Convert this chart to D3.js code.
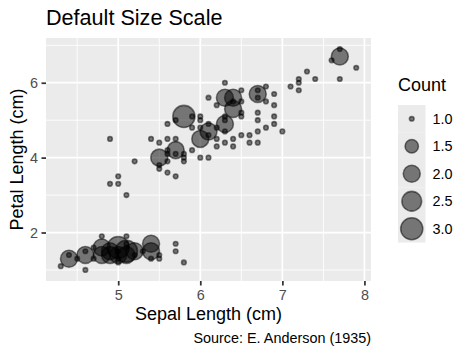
<!DOCTYPE html>
<html>
<head>
<meta charset="utf-8">
<script src="https://cdn.jsdelivr.net/npm/d3@7"></script>
<style>
  html, body { margin: 0; padding: 0; background: #fff; }
  svg { display: block; font-family: "Liberation Sans", Arial, Helvetica, sans-serif; }
</style>
</head>
<body>
<svg id="chart" width="474" height="355"></svg>
<script>
// ---- Data (unique Sepal/Petal length combinations and their counts) ----
const sepalLength = [
  4.3,4.4,4.4,4.5,4.6,4.6,4.6,4.7,4.7,4.8,4.8,4.8,4.9,4.9,5.0,5.0,5.0,5.0,5.0,5.1,5.1,5.1,5.1,5.1,5.2,5.2,5.3,5.4,5.4,5.4,5.5,5.5,5.7,5.7,5.8,
  4.9,4.9,5.0,5.0,5.1,5.2,5.4,
  5.5,5.5,5.5,5.5,
  5.6,5.6,5.6,5.6,5.6,5.6,
  5.7,5.7,5.7,5.7,5.7,
  5.8,5.8,5.8,5.8,
  5.9,5.9,5.9,
  6.0,6.0,6.0,6.0,6.0,
  6.1,6.1,6.1,6.1,6.1,
  6.2,6.2,6.2,6.2,
  6.3,6.3,6.3,6.3,6.3,6.3,6.3,
  6.4,6.4,6.4,6.4,6.4,
  6.5,6.5,6.5,6.5,6.5,
  6.6,6.6,
  6.7,6.7,6.7,6.7,6.7,6.7,6.7,
  6.8,6.8,6.8,
  6.9,6.9,6.9,6.9,
  7.0,7.1,7.2,7.2,7.2,7.3,7.4,7.6,
  7.7,7.7,7.7,7.9
];
const petalLength = [
  1.1,1.3,1.4,1.3,1.0,1.4,1.5,1.3,1.6,1.4,1.6,1.9,1.4,1.5,1.2,1.3,1.4,1.5,1.6,1.4,1.5,1.6,1.7,1.9,1.4,1.5,1.5,1.3,1.5,1.7,1.3,1.4,1.5,1.7,1.2,
  3.3,4.5,3.3,3.5,3.0,3.9,4.5,
  3.7,3.8,4.0,4.4,
  3.6,3.9,4.1,4.2,4.5,4.9,
  3.5,4.1,4.2,4.5,5.0,
  3.9,4.0,4.1,5.1,
  4.2,4.8,5.1,
  4.0,4.5,4.8,5.0,5.1,
  4.0,4.6,4.7,4.9,5.6,
  4.3,4.5,4.8,5.4,
  4.4,4.7,4.9,5.0,5.1,5.6,6.0,
  4.3,4.5,5.3,5.5,5.6,
  4.6,5.1,5.2,5.5,5.8,
  4.4,4.6,
  4.4,4.7,5.0,5.2,5.6,5.7,5.8,
  4.8,5.5,5.9,
  4.9,5.1,5.4,5.7,
  4.7,5.9,5.8,6.0,6.1,6.3,6.1,6.6,
  6.1,6.7,6.9,6.4
];
const count = [
  1,2,1,1,1,2,1,1,1,2,2,1,2,2,1,1,2,1,3,2,3,1,1,1,1,2,1,1,2,2,1,1,1,1,1,
  1,1,1,1,1,1,1,
  1,1,2,1,
  1,1,1,1,1,1,
  1,1,2,1,1,
  1,1,1,3,
  1,1,1,
  1,2,1,1,1,
  1,1,2,1,1,
  1,1,1,1,
  1,1,2,1,1,2,1,
  1,1,2,1,2,
  1,1,1,1,1,
  1,1,
  1,1,1,1,1,2,1,
  1,1,1,
  1,1,1,1,
  1,1,1,1,1,1,1,1,
  1,2,1,1
];
const xTicks = [5, 6, 7, 8];
const xMinorTicks = [4.5, 5.5, 6.5, 7.5];
const yTicks = [2, 4, 6];
const yMinorTicks = [1, 3, 5, 7];
const legendBreaks = [1.0, 1.5, 2.0, 2.5, 3.0];

const titleText = "Default Size Scale";
const xTitle = "Sepal Length (cm)";
const yTitle = "Petal Length (cm)";
const legendTitle = "Count";
const captionText = "Source: E. Anderson (1935)";

// ---- Layout ----
const PX = 1.636; // px per pt
const panel = { left: 46, right: 371, top: 38, bottom: 281 };
const svg = d3.select("#chart");

const points = sepalLength.map((x, i) => ({ x, y: petalLength[i], n: count[i] }));

function expand(ext) {
  const d = (ext[1] - ext[0]) * 0.05;
  return [ext[0] - d, ext[1] + d];
}
const x = d3.scaleLinear().domain(expand(d3.extent(sepalLength))).range([panel.left, panel.right]);
const y = d3.scaleLinear().domain(expand(d3.extent(petalLength))).range([panel.bottom, panel.top]);

// ggplot-like area size scale: range 1..6
const sizeT = d3.scaleLinear().domain(d3.extent(legendBreaks)).range([0, 1]).clamp(true);
const ggSize = n => 1 + 5 * Math.sqrt(sizeT(n));
const radius = n => 0.375 * (ggSize(n) * 2.845 + 0.945) * PX;
const strokeW = 0.945 * PX;

// ---- Panel ----
svg.append("rect")
  .attr("x", panel.left).attr("y", panel.top)
  .attr("width", panel.right - panel.left).attr("height", panel.bottom - panel.top)
  .attr("fill", "#EBEBEB");

const grid = svg.append("g");
grid.selectAll(".xminor").data(xMinorTicks).enter().append("line")
  .attr("x1", d => x(d)).attr("x2", d => x(d))
  .attr("y1", panel.top).attr("y2", panel.bottom)
  .attr("stroke", "#fff").attr("stroke-width", 0.87);
grid.selectAll(".yminor").data(yMinorTicks).enter().append("line")
  .attr("y1", d => y(d)).attr("y2", d => y(d))
  .attr("x1", panel.left).attr("x2", panel.right)
  .attr("stroke", "#fff").attr("stroke-width", 0.87);
grid.selectAll(".xmajor").data(xTicks).enter().append("line")
  .attr("x1", d => x(d)).attr("x2", d => x(d))
  .attr("y1", panel.top).attr("y2", panel.bottom)
  .attr("stroke", "#fff").attr("stroke-width", 1.74);
grid.selectAll(".ymajor").data(yTicks).enter().append("line")
  .attr("y1", d => y(d)).attr("y2", d => y(d))
  .attr("x1", panel.left).attr("x2", panel.right)
  .attr("stroke", "#fff").attr("stroke-width", 1.74);

// ---- Points ----
svg.append("g").selectAll("circle").data(points).enter().append("circle")
  .attr("cx", d => x(d.x)).attr("cy", d => y(d.y))
  .attr("r", d => radius(d.n))
  .attr("fill", "#000").attr("fill-opacity", 0.5)
  .attr("stroke", "#000").attr("stroke-opacity", 0.5)
  .attr("stroke-width", strokeW);

// ---- Axes ----
const xAxis = svg.append("g")
  .attr("transform", `translate(0,${panel.bottom})`)
  .call(d3.axisBottom(x).tickValues(xTicks).tickSize(4.5).tickPadding(3.8).tickFormat(d3.format("d")));
const yAxis = svg.append("g")
  .attr("transform", `translate(${panel.left},0)`)
  .call(d3.axisLeft(y).tickValues(yTicks).tickSize(4.5).tickPadding(3.6).tickFormat(d3.format("d")));
[xAxis, yAxis].forEach(a => {
  a.select(".domain").remove();
  a.selectAll(".tick line").attr("stroke", "#333333").attr("stroke-width", 1.74);
  a.selectAll(".tick text").attr("fill", "#4D4D4D").attr("font-size", 14.4)
    .attr("font-family", '"Liberation Sans", Arial, sans-serif');
});

// ---- Titles ----
svg.append("text").attr("x", panel.left).attr("y", 25)
  .attr("font-size", 21.6).attr("fill", "#000").text(titleText);
svg.append("text").attr("x", (panel.left + panel.right) / 2).attr("y", 320)
  .attr("text-anchor", "middle").attr("font-size", 18).attr("fill", "#000").text(xTitle);
svg.append("text")
  .attr("transform", `translate(23,${(panel.top + panel.bottom) / 2}) rotate(-90)`)
  .attr("text-anchor", "middle").attr("font-size", 18).attr("fill", "#000").text(yTitle);
svg.append("text").attr("x", panel.right).attr("y", 343)
  .attr("text-anchor", "end").attr("font-size", 14.4).attr("fill", "#000").text(captionText);

// ---- Legend ----
const legend = { left: 398, top: 105, key: 27.5 };
const lg = svg.append("g");
lg.append("text").attr("x", legend.left).attr("y", 91)
  .attr("font-size", 18).attr("fill", "#000").text(legendTitle);
const keys = lg.selectAll(".key").data(legendBreaks).enter().append("g")
  .attr("transform", (d, i) => `translate(${legend.left},${legend.top + i * legend.key})`);
keys.append("rect").attr("width", legend.key).attr("height", legend.key).attr("fill", "#EBEBEB");
keys.append("circle")
  .attr("cx", legend.key / 2).attr("cy", legend.key / 2)
  .attr("r", d => radius(d))
  .attr("fill", "#000").attr("fill-opacity", 0.5)
  .attr("stroke", "#000").attr("stroke-opacity", 0.5)
  .attr("stroke-width", strokeW);
keys.append("text")
  .attr("x", legend.key + 7).attr("y", legend.key / 2).attr("dy", "0.35em")
  .attr("font-size", 14.4).attr("fill", "#000")
  .text(d => d3.format(".1f")(d));
</script>
</body>
</html>
